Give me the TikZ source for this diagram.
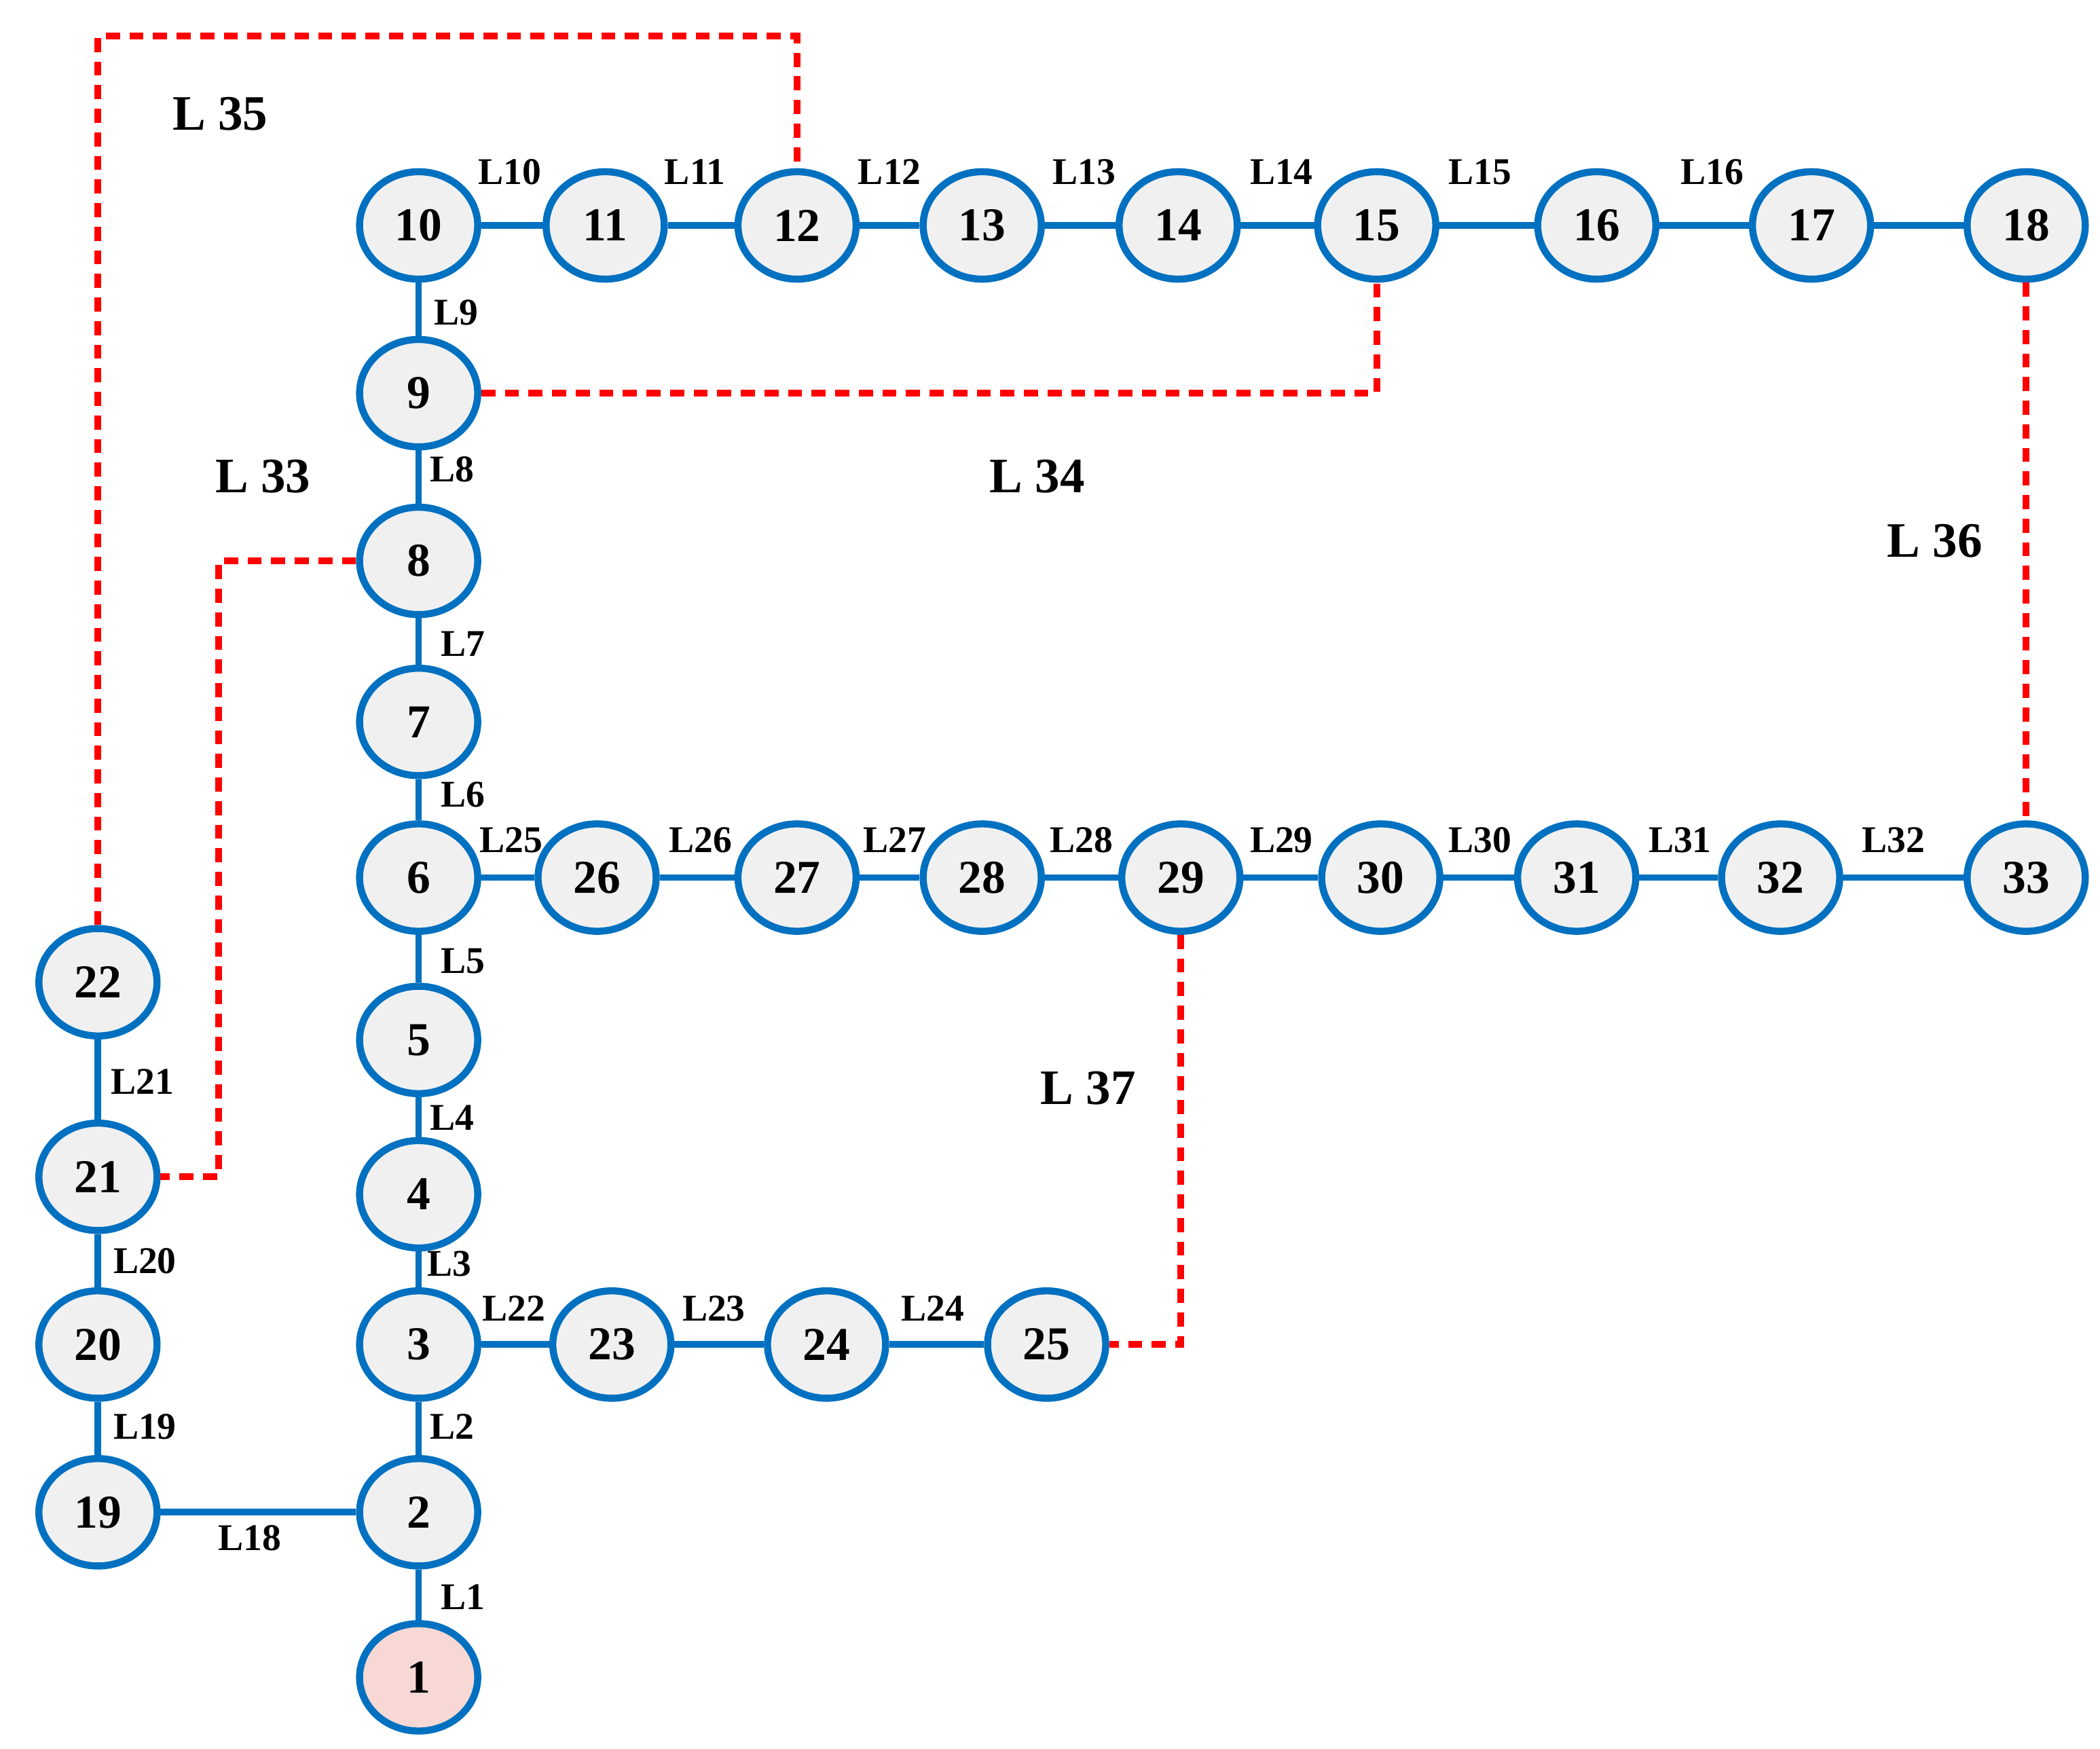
\documentclass[tikz,border=0pt]{standalone}
\usepackage{fontspec}
\setmainfont{Liberation Serif}
\definecolor{busblue}{HTML}{0070C0}
\definecolor{busgray}{HTML}{F0F0F0}
\definecolor{buspink}{HTML}{F8D8D5}
\tikzset{
  bus/.style={ellipse,draw=busblue,line width=1.5pt,fill=busgray,minimum width=0.88cm,minimum height=0.8cm,inner sep=0pt,font=\bfseries\fontsize{10}{10}\selectfont},
  line/.style={draw=busblue,line width=1.4pt},
  tie/.style={draw=red,line width=1.4pt,dash pattern=on 3pt off 2pt},
  lab/.style={font=\bfseries\fontsize{8}{8}\selectfont},
  tlab/.style={font=\bfseries\fontsize{10.5}{10.5}\selectfont}
}
\usetikzlibrary{shapes.geometric}
\begin{document}
\begin{tikzpicture}[x=0.01cm,y=-0.01cm]
\useasboundingbox (0,0) rectangle (1565,1303);
% buses
\foreach \n/\x/\y in {2/312/1127,3/312/1002,4/312/890,5/312/775,6/312/654,7/312/538,8/312/418,9/312/293,
  10/312/168,11/451/168,12/594/168,13/732/168,14/878/168,15/1026/168,16/1190/168,17/1350/168,18/1510/168,
  19/73/1127,20/73/1002,21/73/877,22/73/732,23/456/1002,24/616/1002,25/780/1002,
  26/445/654,27/594/654,28/732/654,29/880/654,30/1029/654,31/1175/654,32/1327/654,33/1510/654}
  \node[bus] (b\n) at (\x,\y) {\n};
\node[bus,fill=buspink] (b1) at (312,1250) {1};
% branches
\foreach \a/\b in {1/2,2/3,3/4,4/5,5/6,6/7,7/8,8/9,9/10,10/11,11/12,12/13,13/14,14/15,15/16,16/17,17/18,
  2/19,19/20,20/21,21/22,3/23,23/24,24/25,6/26,26/27,27/28,28/29,29/30,30/31,31/32,32/33}
  \draw[line] (b\a) -- (b\b);
% tie lines
\coordinate (c35a) at (73,27);
\coordinate (c35b) at (594,27);
\draw[tie] (b22.north) -- (c35a) -- (c35b) -- (b12.north);
\coordinate (c34) at (1026,293);
\draw[tie] (b9.east) -- (c34) -- (b15.south);
\coordinate (c33a) at (163,418);
\coordinate (c33b) at (163,877);
\draw[tie] (b8.west) -- (c33a) -- (c33b) -- (b21.east);
\draw[tie] (b18.south) -- (b33.north);
\coordinate (c37) at (880,1002);
\draw[tie] (b29.south) -- (c37) -- (b25.east);
% labels
\foreach \t/\x/\y in {L1/345/1190,L2/337/1063,L3/335/942,L4/337/833,L5/345/716,L6/345/592,L7/345/480,
  L8/337/350,L9/340/233,L10/380/128,L11/518/128,L12/663/128,L13/808/128,L14/955/128,L15/1103/128,
  L16/1276/128,L18/186/1146,L19/108/1063,L20/108/940,L21/106/806,L22/383/975,L23/532/975,L24/695/975,
  L25/381/626,L26/522/626,L27/667/626,L28/806/626,L29/955/626,L30/1103/626,L31/1252/626,L32/1411/626}
  \node[lab] (n\t) at (\x,\y) {\t};
\foreach \t/\x/\y in {33/196/355,34/773/355,35/164/85,36/1442/403,37/811/811}
  \node[tlab] (nL\t) at (\x,\y) {L \t};
\end{tikzpicture}
\end{document}
